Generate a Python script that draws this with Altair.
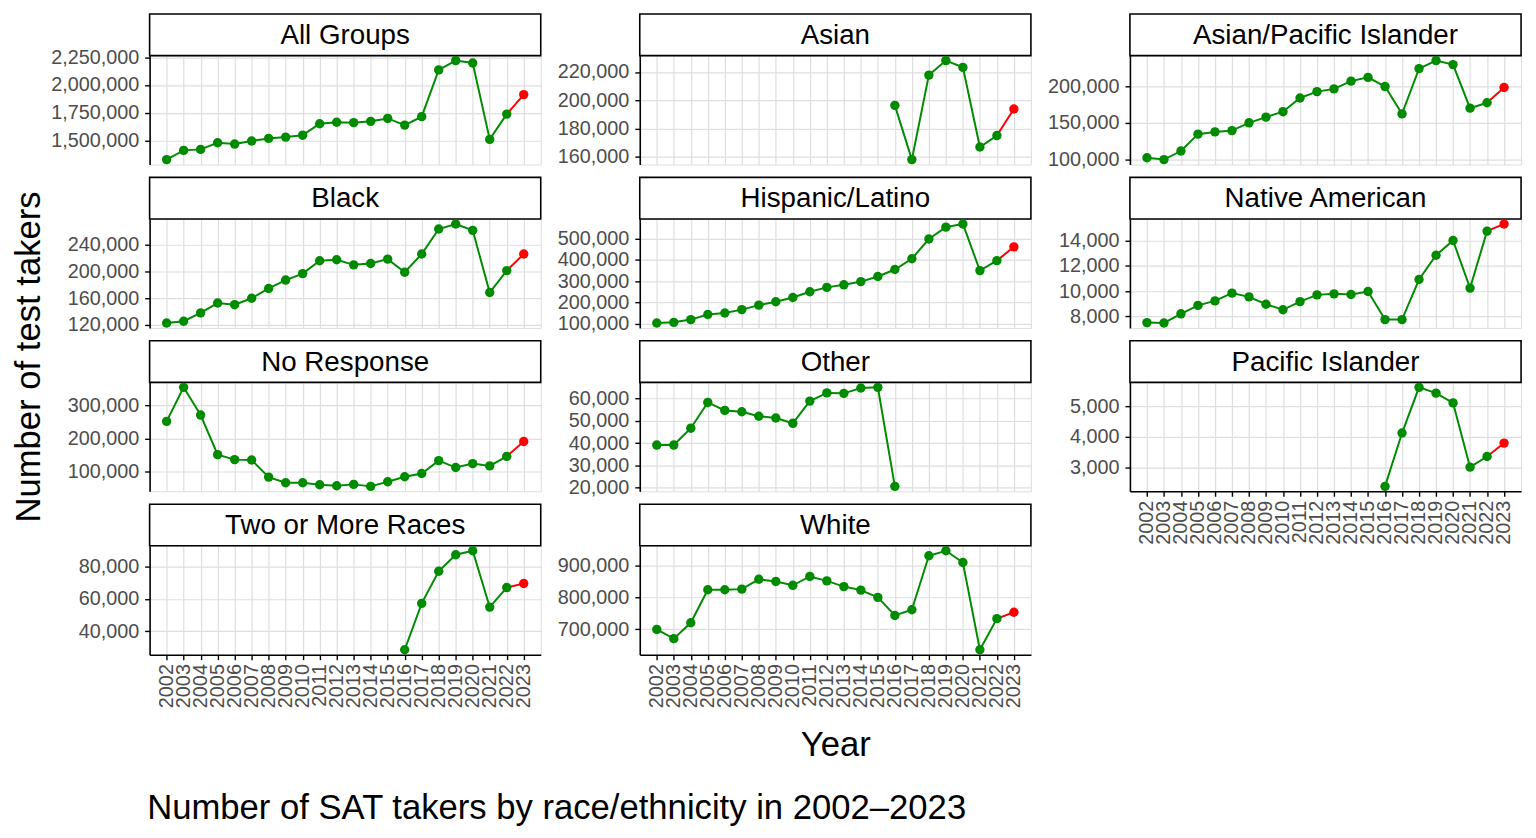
import altair as alt
import pandas as pd

years = [2002, 2003, 2004, 2005, 2006, 2007, 2008, 2009, 2010, 2011, 2012,
         2013, 2014, 2015, 2016, 2017, 2018, 2019, 2020, 2021, 2022, 2023]

all_groups = [1327000, 1410000, 1419000, 1479000, 1467000, 1495000, 1518000, 1530000,
              1547000, 1650000, 1664000, 1660000, 1672000, 1698000, 1638000, 1714000,
              2136000, 2220000, 2198000, 1509000, 1737000, 1913000]
asian = [None] * 14 + [196400, 158000, 217800, 228100, 223300, 166900, 175000, 193800]
asian_pi = [102300, 99800, 111500, 134500, 137600, 139400, 150000, 157800, 165200,
            183900, 192600, 196300, 206900, 212000, 199500, 162200, 224000, 235000,
            229500, 170000, 177400, 198200]
black = [123000, 125600, 138200, 152900, 150400, 160000, 174700, 187300, 197000, 216200,
         217700, 210100, 212200, 218700, 199000, 226300, 263800, 271400, 261800, 168600,
         201500, 226300]
hispanic = [103000, 106000, 119000, 143000, 150000, 166000, 187000, 203000, 223000,
            250000, 271000, 283000, 298000, 322000, 355000, 406000, 499000, 555000,
            570000, 350000, 397000, 462000]
native_american = [7490, 7460, 8190, 8860, 9220, 9840, 9540, 8950, 8510, 9160, 9700,
                   9780, 9730, 9970, 7730, 7730, 10920, 12860, 14030, 10240, 14780, 15350]
no_response = [252000, 355000, 271000, 151000, 136000, 135000, 83000, 66000, 66000,
               60000, 57000, 61000, 55000, 69000, 84000, 94000, 133000, 112000, 124000,
               117000, 146000, 191000]
other = [39100, 39100, 46700, 58300, 54700, 54100, 52100, 51300, 48900, 58900, 62600,
         62400, 64800, 65100, 20500] + [None] * 7
pacific_islander = [None] * 14 + [2380, 4130, 5630, 5440, 5120, 3010, 3360, 3800]
two_or_more = [None] * 14 + [28500, 57200, 77100, 87300, 89800, 54900, 67000, 69500]
white = [699000, 670000, 720000, 824000, 824000, 826000, 857000, 850000, 838000, 866000,
         852000, 834000, 823000, 800000, 743000, 761000, 931000, 947000, 910000, 635000,
         733000, 753000]

ticks_all_groups = [1500000, 1750000, 2000000, 2250000]
ticks_asian = [160000, 180000, 200000, 220000]
ticks_asian_pi = [100000, 150000, 200000]
ticks_black = [120000, 160000, 200000, 240000]
ticks_hispanic = [100000, 200000, 300000, 400000, 500000]
ticks_native = [8000, 10000, 12000, 14000]
ticks_no_response = [100000, 200000, 300000]
ticks_other = [20000, 30000, 40000, 50000, 60000]
ticks_pacific = [3000, 4000, 5000]
ticks_two = [40000, 60000, 80000]
ticks_white = [700000, 800000, 900000]

GREEN = "#008B00"
RED = "#FF0000"
FONT = "Liberation Sans"
LABEL_COLOR = "#4D4D4D"
GRID_COLOR = "#DEDEDE"
W = 395
H = 110
STRIP = 42


def make_panel(name, values, ticks, extent, bottom, x_title=""):
    df = pd.DataFrame({"year": years, "value": values}).dropna()
    actual = df[df["year"] <= 2022]
    proj = df[df["year"] >= 2022]
    lo = df["value"].min()
    hi = df["value"].max()
    pad = (hi - lo) * 0.05
    x_scale = alt.Scale(domain=[2001, 2024], nice=False, zero=False)
    y_scale = alt.Scale(domain=[lo - pad, hi + pad], nice=False, zero=False)

    if bottom:
        xa = dict(values=years, format="d", labelAngle=270, labelFontSize=20,
                  labelColor=LABEL_COLOR, labelFont=FONT, labelOverlap=False,
                  labelFlush=False, labelPadding=4, domain=True, domainColor="black",
                  domainWidth=1.6, ticks=True, tickColor="black", tickSize=5,
                  tickWidth=1.4, grid=True, gridColor=GRID_COLOR, gridWidth=1.2)
        if x_title:
            xa.update(title=x_title, titleFontSize=35, titleFont=FONT,
                      titleFontWeight="normal", titleColor="black", titlePadding=20)
        else:
            xa.update(title=None)
        x_axis = alt.Axis(**xa)
    else:
        x_axis = alt.Axis(values=years, labels=False, ticks=False, domain=False,
                          grid=True, gridColor=GRID_COLOR, gridWidth=1.2, title=None)

    y_axis = alt.Axis(values=ticks, format=",.0f", labelFontSize=20, labelColor=LABEL_COLOR,
                      labelFont=FONT, labelPadding=6, domain=True, domainColor="black",
                      domainWidth=1.6, ticks=True, tickColor="black", tickSize=5,
                      tickWidth=1.4, grid=True, gridColor=GRID_COLOR, gridWidth=1.2,
                      minExtent=extent, maxExtent=extent, title=None, labelOverlap=False)

    enc_x = alt.X("year:Q", scale=x_scale, axis=x_axis)
    enc_y = alt.Y("value:Q", scale=y_scale, axis=y_axis)

    label_df = pd.DataFrame({"label": [name]})
    strip_rect = alt.Chart(label_df).mark_rect(
        fill="white", stroke="black", strokeWidth=1.6
    ).encode(x=alt.value(0), x2=alt.value(W), y=alt.value(-STRIP), y2=alt.value(0))
    strip_text = alt.Chart(label_df).mark_text(
        font=FONT, fontSize=28, color="black", baseline="middle", align="center"
    ).encode(text="label:N", x=alt.value(W / 2), y=alt.value(-STRIP / 2 + 1))

    layers = [strip_rect, strip_text]
    layers.append(alt.Chart(actual).mark_line(color=GREEN, strokeWidth=2).encode(x=enc_x, y=enc_y))
    if len(proj) == 2:
        layers.append(alt.Chart(proj).mark_line(color=RED, strokeWidth=2).encode(x=enc_x, y=enc_y))
        layers.append(alt.Chart(proj[proj["year"] == 2023]).mark_circle(
            color=RED, size=90, opacity=1).encode(x=enc_x, y=enc_y))
    layers.append(alt.Chart(actual).mark_circle(color=GREEN, size=90, opacity=1).encode(x=enc_x, y=enc_y))
    return alt.layer(*layers).properties(width=W, height=H)


E1 = 99
E2 = 84
ROW_SPACING = STRIP + 13
col1 = alt.vconcat(
    make_panel("All Groups", all_groups, ticks_all_groups, E1, False),
    make_panel("Black", black, ticks_black, E1, False),
    make_panel("No Response", no_response, ticks_no_response, E1, False),
    make_panel("Two or More Races", two_or_more, ticks_two, E1, True),
    spacing=ROW_SPACING, bounds="flush",
)
col2 = alt.vconcat(
    make_panel("Asian", asian, ticks_asian, E2, False),
    make_panel("Hispanic/Latino", hispanic, ticks_hispanic, E2, False),
    make_panel("Other", other, ticks_other, E2, False),
    make_panel("White", white, ticks_white, E2, True, "Year"),
    spacing=ROW_SPACING, bounds="flush",
)
col3 = alt.vconcat(
    make_panel("Asian/Pacific Islander", asian_pi, ticks_asian_pi, E2, False),
    make_panel("Native American", native_american, ticks_native, E2, False),
    make_panel("Pacific Islander", pacific_islander, ticks_pacific, E2, True),
    spacing=ROW_SPACING, bounds="flush",
)

grid = alt.hconcat(col1, col2, col3, spacing=13).properties(
    title=alt.TitleParams(
        text="Number of test takers", orient="left", anchor="middle", fontSize=35,
        font=FONT, fontWeight="normal", color="black", offset=3, dx=31
    )
)

chart = alt.vconcat(grid).properties(
    title=alt.TitleParams(
        text="Number of SAT takers by race/ethnicity in 2002\u20132023", orient="bottom",
        anchor="start", fontSize=35, font=FONT, fontWeight="normal", color="black",
        offset=29, dx=136
    ),
    padding={"left": 4, "top": 0, "right": 5, "bottom": 5},
).configure_view(strokeWidth=0).configure(font=FONT)

chart.save("out.html", embed_options={"renderer": "svg", "actions": False})
